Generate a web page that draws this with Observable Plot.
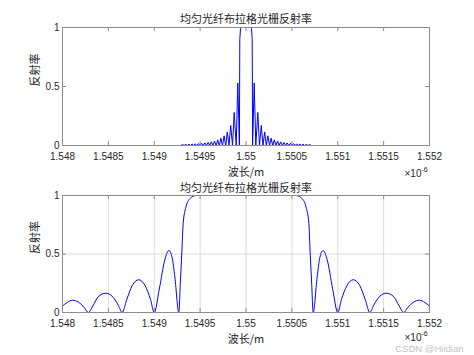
<!DOCTYPE html>
<html><head><meta charset="utf-8">
<script src="https://cdn.jsdelivr.net/npm/d3@7"></script>
<script src="https://cdn.jsdelivr.net/npm/@observablehq/plot@0.6"></script>
<style>
body{margin:0;background:#fff;}
#chart{position:relative;width:474px;height:355px;overflow:hidden;background:#fff;}
#chart svg{display:block;}
</style></head><body><div id="chart"></div>
<script>
// ---- data (wavelength in units of 1e-6 m, as labelled) ----
const topWavelength = [1.548, 1.5492904, 1.5493078, 1.5493253, 1.5493427, 1.5493602, 1.5493776, 1.549395, 1.5494125, 1.5494299, 1.5494474, 1.5494648, 1.5494822, 1.5494997, 1.5495171, 1.5495346, 1.549552, 1.5495694, 1.5495869, 1.5496043, 1.5496218, 1.5496392, 1.5496566, 1.5496741, 1.5496915, 1.549709, 1.5497264, 1.5497438, 1.5497613, 1.5497787, 1.5497962, 1.5498147, 1.5498332, 1.5498529, 1.5498714, 1.5498932, 1.5499106, 1.5499281, 1.5499324, 1.54994, 1.549951, 1.550049, 1.55006, 1.5500676, 1.5500719, 1.5500894, 1.5501068, 1.5501286, 1.5501471, 1.5501668, 1.5501853, 1.5502038, 1.5502213, 1.5502387, 1.5502562, 1.5502736, 1.550291, 1.5503085, 1.5503259, 1.5503434, 1.5503608, 1.5503782, 1.5503957, 1.5504131, 1.5504306, 1.550448, 1.5504654, 1.5504829, 1.5505003, 1.5505178, 1.5505352, 1.5505526, 1.5505701, 1.5505875, 1.550605, 1.5506224, 1.5506398, 1.5506573, 1.5506747, 1.5506922, 1.5507096, 1.552];
const topReflectivity = [0, 0, 0.0085, 0, 0.0095, 0, 0.011, 0, 0.012, 0, 0.014, 0, 0.016, 0, 0.019, 0, 0.022, 0, 0.026, 0, 0.031, 0, 0.038, 0, 0.048, 0, 0.062, 0, 0.082, 0, 0.115, 0, 0.17, 0, 0.28, 0, 0.53, 0, 0.9, 0.99, 1, 1, 0.99, 0.9, 0, 0.53, 0, 0.28, 0, 0.17, 0, 0.115, 0, 0.082, 0, 0.062, 0, 0.048, 0, 0.038, 0, 0.031, 0, 0.026, 0, 0.022, 0, 0.019, 0, 0.016, 0, 0.014, 0, 0.012, 0, 0.011, 0, 0.0095, 0, 0.0085, 0, 0];

const bottomWavelength = [1.548, 1.54805, 1.54811, 1.54817, 1.54824, 1.54828, 1.54833, 1.54839, 1.54847, 1.54854, 1.54861, 1.54865, 1.5487, 1.54876, 1.54883, 1.5489, 1.54896, 1.549, 1.549055, 1.549115, 1.549159, 1.549195, 1.549225, 1.549268, 1.549284, 1.5493, 1.549315, 1.549345, 1.549385, 1.549455, 1.55, 1.550545, 1.550615, 1.550655, 1.550685, 1.5507, 1.550716, 1.550732, 1.550775, 1.550805, 1.550841, 1.550885, 1.550945, 1.551, 1.55104, 1.5511, 1.55117, 1.55124, 1.5513, 1.55135, 1.55139, 1.55146, 1.55153, 1.55161, 1.55167, 1.55172, 1.55176, 1.55183, 1.55189, 1.55195, 1.552];
const bottomReflectivity = [0.055, 0.085, 0.105, 0.09, 0.04, 0, 0.055, 0.135, 0.165, 0.14, 0.06, 0, 0.11, 0.23, 0.28, 0.23, 0.11, 0, 0.2, 0.45, 0.53, 0.47, 0.3, 0, 0.245, 0.5, 0.76, 0.9, 0.97, 1, 1, 1, 0.97, 0.9, 0.76, 0.5, 0.245, 0, 0.3, 0.47, 0.53, 0.45, 0.2, 0, 0.11, 0.23, 0.28, 0.23, 0.11, 0, 0.06, 0.14, 0.165, 0.135, 0.055, 0, 0.04, 0.09, 0.105, 0.085, 0.055];

const xTicks = [1.548, 1.5485, 1.549, 1.5495, 1.55, 1.5505, 1.551, 1.5515, 1.552];
const xTickLabels = ["1.548", "1.5485", "1.549", "1.5495", "1.55", "1.5505", "1.551", "1.5515", "1.552"];
const yTicks = [0, 0.5, 1];
const yTickLabels = ["0", "0.5", "1"];
const titleText = "均匀光纤布拉格光栅反射率";
const xLabelText = "波长/m";
const yLabelText = "反射率";
const exponentBase = "×10";
const exponentPower = "-6";
const watermarkText = "CSDN @Hiidian";

// ---- drawing ----
const W = 474, ML = 62, MR = 45;
const latin = "'Liberation Sans', Arial, sans-serif";
const cjk = "'Noto Sans CJK SC', 'Liberation Sans', sans-serif";
const axisColor = "#8c8c8c";
const textColor = "#262626";

function panel({wl, r, height, marginTop, marginBottom, grid, titleDy, expDy, watermark}) {
  const data = wl.map((x, i) => ({x, y: r[i]}));
  const innerW = W - ML - MR;
  const innerH = height - marginTop - marginBottom;
  const tickLen = 4;
  const marks = [];
  if (grid) {
    marks.push(Plot.gridX(xTicks, {stroke: "#dcdcdc", strokeOpacity: 1}));
    marks.push(Plot.gridY(yTicks, {stroke: "#dcdcdc", strokeOpacity: 1}));
  }
  marks.push(Plot.line(data, {x: "x", y: "y", stroke: "#0000ff", strokeWidth: 1, curve: grid ? "monotone-x" : "linear"}));
  marks.push(Plot.frame({stroke: axisColor}));
  marks.push(Plot.tickX(xTicks, {x: d => d, stroke: axisColor, insetTop: innerH - tickLen}));
  marks.push(Plot.tickX(xTicks, {x: d => d, stroke: axisColor, insetBottom: innerH - tickLen}));
  marks.push(Plot.tickY(yTicks, {y: d => d, stroke: axisColor, insetRight: innerW - tickLen}));
  marks.push(Plot.tickY(yTicks, {y: d => d, stroke: axisColor, insetLeft: innerW - tickLen}));
  marks.push(Plot.text(xTicks, {x: d => d, text: (d, i) => xTickLabels[i], frameAnchor: "bottom", dy: 11, lineAnchor: "middle", fill: textColor, fontSize: 10, fontFamily: latin}));
  marks.push(Plot.text(yTicks, {y: d => d, text: (d, i) => yTickLabels[i], frameAnchor: "left", dx: -3, textAnchor: "end", lineAnchor: "middle", fill: textColor, fontSize: 10, fontFamily: latin}));
  marks.push(Plot.text([titleText], {text: d => d, frameAnchor: "top", dy: titleDy, lineAnchor: "middle", fill: textColor, fontSize: 11, fontFamily: cjk}));
  marks.push(Plot.text([xLabelText], {text: d => d, frameAnchor: "bottom", dy: 27, lineAnchor: "middle", fill: textColor, fontSize: 11, fontFamily: cjk}));
  marks.push(Plot.text([yLabelText], {text: d => d, frameAnchor: "left", dx: -27, rotate: -90, lineAnchor: "middle", fill: textColor, fontSize: 11, fontFamily: cjk}));
  marks.push(Plot.text([exponentBase], {text: d => d, frameAnchor: "bottom-right", dx: -8, dy: expDy, textAnchor: "end", lineAnchor: "middle", fill: textColor, fontSize: 10, fontFamily: latin}));
  marks.push(Plot.text([exponentPower], {text: d => d, frameAnchor: "bottom-right", dx: -8, dy: expDy - 4, textAnchor: "start", lineAnchor: "middle", fill: textColor, fontSize: 7, fontFamily: latin}));
  if (watermark) {
    marks.push(Plot.text([watermarkText], {text: d => d, frameAnchor: "bottom-right", dx: 34, dy: 36, textAnchor: "end", lineAnchor: "middle", fill: "#c4c4c4", fontSize: 9.5, fontFamily: latin}));
  }
  return Plot.plot({
    width: W, height, marginLeft: ML, marginRight: MR, marginTop, marginBottom,
    x: {domain: [1.548, 1.552], axis: null},
    y: {domain: [0, 1], axis: null},
    style: {background: "white", overflow: "visible"},
    marks
  });
}

const chart = document.getElementById("chart");
chart.appendChild(panel({wl: topWavelength, r: topReflectivity, height: 177, marginTop: 27, marginBottom: 32, grid: false, titleDy: -8.5, expDy: 28, watermark: false}));
chart.appendChild(panel({wl: bottomWavelength, r: bottomReflectivity, height: 178, marginTop: 18, marginBottom: 43, grid: true, titleDy: -7.5, expDy: 25, watermark: true}));
</script>
</body></html>
